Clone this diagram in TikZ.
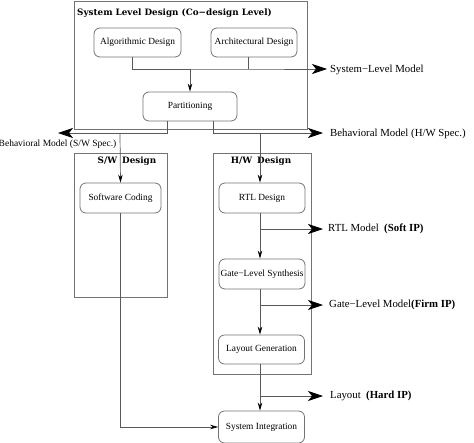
\documentclass[tikz,border=0pt]{standalone}
\usepackage{fontspec}
\setmainfont{Liberation Serif}
\newfontfamily\titlefont{DejaVu Serif}[BoldFont={DejaVu Serif Bold}]
\usetikzlibrary{arrows.meta,calc}
\definecolor{ln}{gray}{0.35}
\definecolor{bx}{gray}{0.45}
\newcommand{\mns}{\char"2212\relax}
\tikzset{
  proc/.style={draw=bx, line width=0.8pt, rounded corners=6pt, minimum width=86pt, minimum height=29pt, inner sep=0pt, font=\fontsize{9.4}{10}\selectfont},
  cluster/.style={draw=bx, line width=0.8pt},
  conn/.style={draw=ln, line width=0.7pt},
  small/.style={conn, -{Stealth[length=8pt,width=4.5pt,color=black]}},
  big/.style={conn, -{Stealth[length=15pt,width=10pt,inset=4pt,color=black]}},
  outlabel/.style={anchor=west, inner sep=0pt, font=\fontsize{10.8}{12}\selectfont},
  ctitle/.style={inner sep=0pt, font=\titlefont\bfseries\fontsize{8.8}{10}\selectfont}
}
\begin{document}
\begin{tikzpicture}[x=1pt,y=-1pt]
\useasboundingbox (0,0) rectangle (474,442);
% clusters
\draw[cluster] (74,1.5) rectangle (307,129);
\draw[cluster] (74,153) rectangle (167,297);
\draw[cluster] (213,153) rectangle (311,374);
\node[ctitle, anchor=west] (t1) at (77,13) {System Level Design (Co{\mns}design Level)};
\node[ctitle] (t2) at (127,161) {S/W\hspace{5pt}Design};
\node[ctitle] (t3) at (261,161) {H/W\hspace{5pt}Design};
% process nodes
\node[proc, minimum width=87pt] (alg) at (137.5,42.5) {Algorithmic Design};
\node[proc] (arch) at (254,42.5) {Architectural Design};
\node[proc, minimum width=94pt] (part) at (190,106.5) {Partitioning};
\node[proc, minimum width=81pt, minimum height=30pt] (swc) at (120.5,198) {Software Coding};
\node[proc, minimum height=30pt] (rtl) at (262,198) {RTL Design};
\node[proc, minimum height=30pt] (gls) at (262,274) {Gate{\mns}Level Synthesis};
\node[proc] (lay) at (261.5,349.5) {Layout Generation};
\node[proc, minimum height=32pt] (sint) at (261.5,427) {System Integration};
% coordinates
\coordinate (j) at (190,69);
\coordinate (slm) at (327,69);
\coordinate (pl) at (167,133);
\coordinate (pr) at (213,133);
\coordinate (bl) at (58,133);
\coordinate (br) at (323,133);
\coordinate (sl) at (120,133);
\coordinate (sr) at (260,133);
\coordinate (r1) at (260,229);
\coordinate (r1e) at (323,229);
\coordinate (g1) at (260,305);
\coordinate (g1e) at (323,305);
\coordinate (l1) at (260,396);
\coordinate (l1e) at (323,396);
% connectors
\draw[conn] (alg.south -| 132,0) |- (j);
\draw[big] (j) -- (arch.south |- j) -- (slm);
\draw[conn] (arch.south -| 248,0) -- (248,69);
\draw[small] (j) -- (part.north);
\draw[big] (part.south -| pl) -- (pl) -- (bl);
\draw[big] (part.south -| pr) -- (pr) -- (br);
\draw[small] (sl) -- (swc.north);
\draw[small] (sr) -- (rtl.north -| sr);
\draw[small] (rtl.south -| sr) -- (gls.north -| sr);
\draw[big] (r1) -- (r1e);
\draw[small] (gls.south -| sr) -- (lay.north -| sr);
\draw[big] (g1) -- (g1e);
\draw[small] (lay.south -| sr) -- (sint.north -| sr);
\draw[big] (l1) -- (l1e);
\draw[small] (swc.south) |- (sint.west);
% labels
\node[outlabel] (lslm) at (330,70) {System{\mns}Level Model};
\node[outlabel] (lbh) at (330,134) {Behavioral Model (H/W Spec.)};
\node[outlabel, font=\fontsize{9.5}{11}\selectfont] (lbs) at (-1.5,144) {Behavioral Model (S/W Spec.)};
\node[outlabel] (lrtl) at (328,229) {RTL Model\ \ \textbf{(Soft IP)}};
\node[outlabel] (lgl) at (329,305) {Gate{\mns}Level Model\textbf{(Firm IP)}};
\node[outlabel] (llay) at (330,396) {Layout\ \ \textbf{(Hard IP)}};
\end{tikzpicture}
\end{document}
